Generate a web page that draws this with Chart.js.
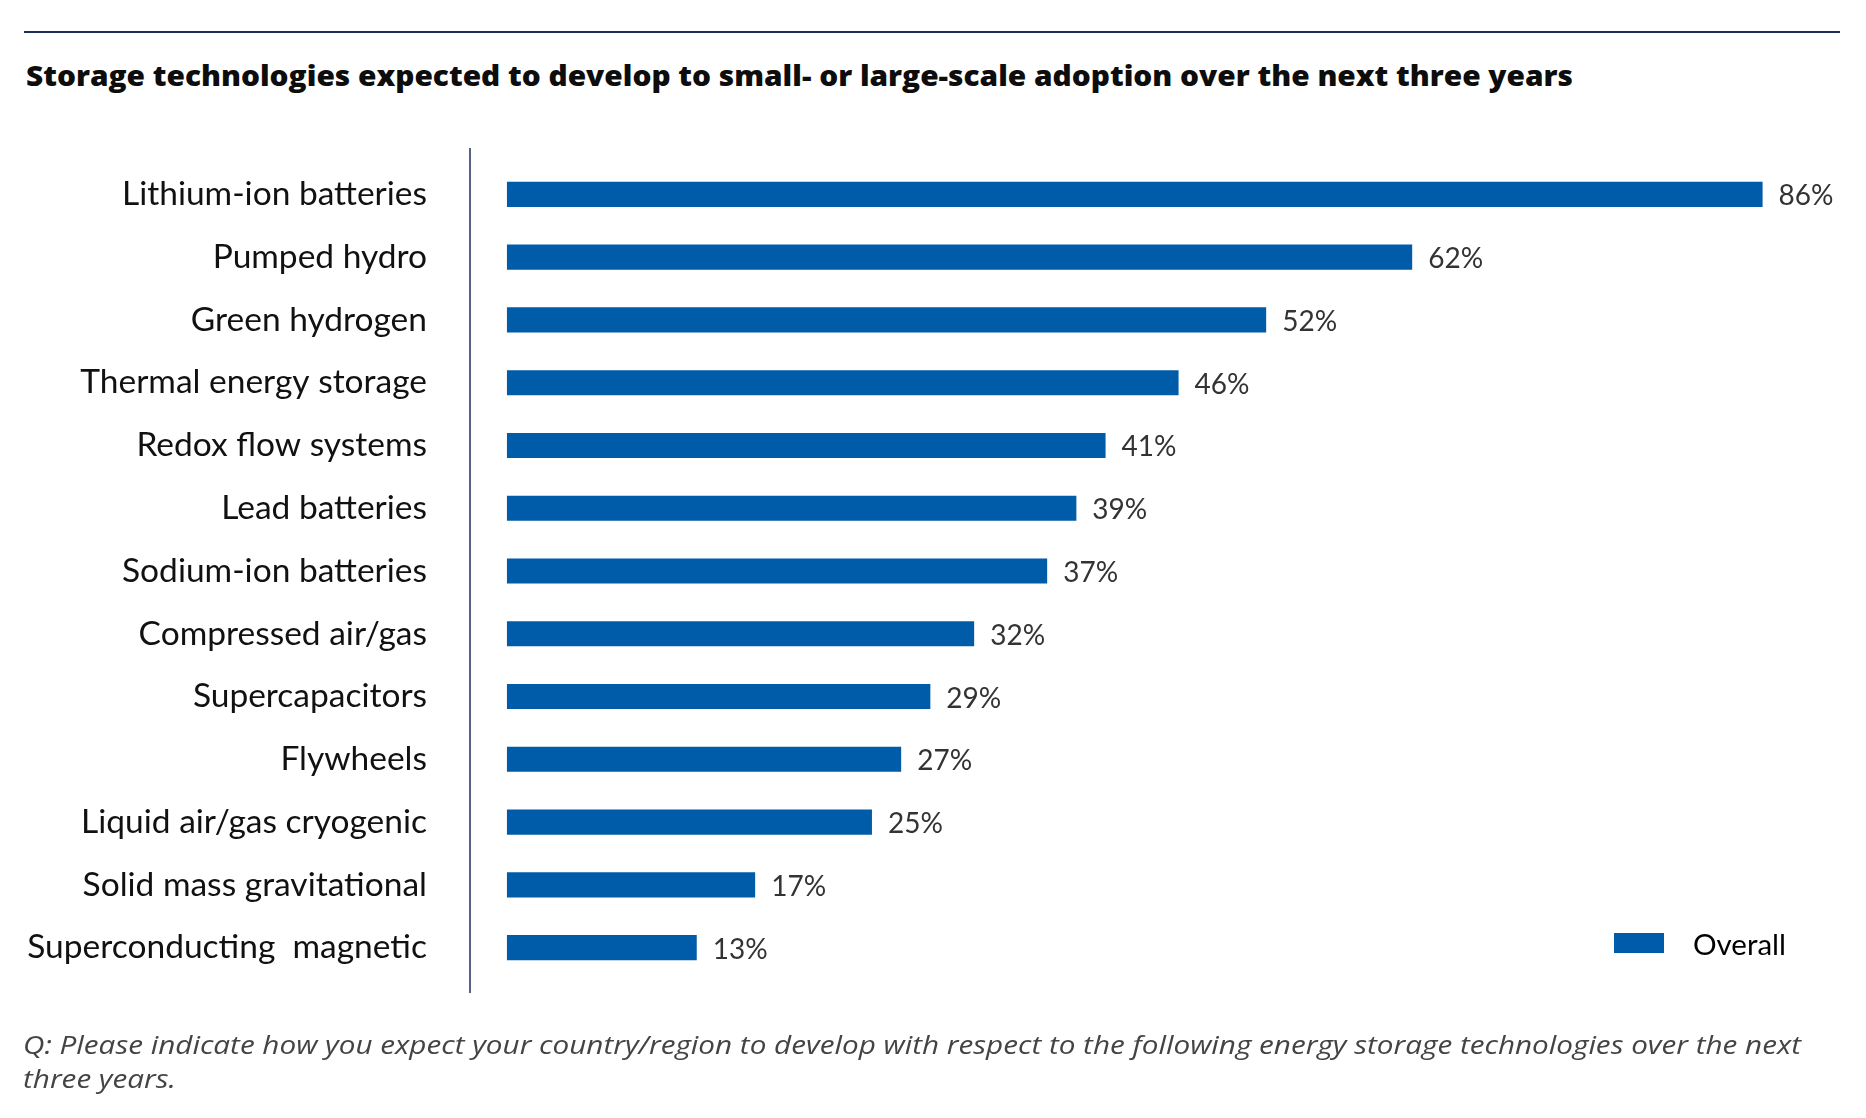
<!DOCTYPE html>
<html>
<head>
<meta charset="utf-8">
<script src="https://cdn.jsdelivr.net/npm/chart.js@4"></script>
<style>
  html, body { margin: 0; padding: 0; background: #ffffff; }
  body { width: 1866px; height: 1118px; position: relative; overflow: hidden; font-family: Lato, "Open Sans", sans-serif; }
  #topline { position: absolute; left: 24px; top: 31px; width: 1816px; height: 2px; background: #1f2d5a; }
  #title { position: absolute; left: 26px; top: 59px; font-family: "Open Sans", Lato, sans-serif; font-weight: 800; font-size: 28px; line-height: 1.2; color: #0d0d0d; white-space: nowrap; transform-origin: 0 0; }
  #note { position: absolute; left: 23px; top: 1027px; font-family: "Open Sans", Lato, sans-serif; font-style: italic; font-size: 25px; line-height: 34px; color: #444; white-space: nowrap; transform-origin: 0 0; }
  #note span { display: block; }
  canvas { position: absolute; left: 0; top: 0; }
</style>
</head>
<body>
<div id="topline"></div>
<div id="title">Storage technologies expected to develop to small- or large-scale adoption over the next three years</div>
<canvas id="c" width="1866" height="1118"></canvas>
<div id="note"><span id="note1">Q: Please indicate how you expect your country/region to develop with respect to the following energy storage technologies over the next</span><span>three years.</span></div>
<script>
const categories = [
  "Lithium-ion batteries",
  "Pumped hydro",
  "Green hydrogen",
  "Thermal energy storage",
  "Redox flow systems",
  "Lead batteries",
  "Sodium-ion batteries",
  "Compressed air/gas",
  "Supercapacitors",
  "Flywheels",
  "Liquid air/gas cryogenic",
  "Solid mass gravitational",
  "Superconducting  magnetic"
];
const seriesName = "Overall";
const overallValues = [86, 62, 52, 46, 41, 39, 37, 32, 29, 27, 25, 17, 13];
const valueSuffix = "%";

const BAR_COLOR = "#005ba9";
const AXIS_COLOR = "#1f2d5a";

// fit header / note widths to the reference
function fitAll() {
  const t = document.getElementById("title");
  const range = document.createRange();
  range.selectNodeContents(t);
  const tw = range.getBoundingClientRect().width;
  if (tw > 0) t.style.transform = "scaleX(" + (1547 / tw) + ")";
  const n1 = document.getElementById("note1");
  const r2 = document.createRange();
  r2.selectNodeContents(n1);
  const nw = r2.getBoundingClientRect().width;
  if (nw > 0) document.getElementById("note").style.transform = "scaleX(" + (1778 / nw) + ")";
}
fitAll();

const valueLabels = {
  id: "valueLabels",
  afterDatasetsDraw(chart) {
    const ctx = chart.ctx;
    const meta = chart.getDatasetMeta(0);
    const data = chart.data.datasets[0].data;
    ctx.save();
    ctx.font = "28px Lato";
    ctx.fillStyle = "#333333";
    ctx.textAlign = "left";
    ctx.textBaseline = "middle";
    meta.data.forEach((bar, i) => {
      ctx.fillText(data[i] + valueSuffix, bar.x + 16, bar.y + 2);
    });
    ctx.restore();
  }
};

const axisLine = {
  id: "axisLine",
  afterDraw(chart) {
    const ctx = chart.ctx;
    const a = chart.chartArea;
    ctx.save();
    ctx.strokeStyle = AXIS_COLOR;
    ctx.lineWidth = 1.5;
    ctx.beginPath();
    ctx.moveTo(a.left, a.top - 15);
    ctx.lineTo(a.left, a.bottom + 14);
    ctx.stroke();
    ctx.restore();
  }
};

const customLegend = {
  id: "customLegend",
  afterDraw(chart) {
    const ctx = chart.ctx;
    const a = chart.chartArea;
    const ds = chart.data.datasets[0];
    const bx = a.right - 207, by = a.bottom - 46;
    ctx.save();
    ctx.fillStyle = ds.backgroundColor;
    ctx.fillRect(bx, by, 50, 20);
    ctx.font = "29.5px Lato";
    ctx.fillStyle = "#000000";
    ctx.textAlign = "left";
    ctx.textBaseline = "alphabetic";
    ctx.fillText(ds.label, bx + 79, by + 22);
    ctx.restore();
  }
};

Chart.defaults.font.family = "Lato";

new Chart(document.getElementById("c"), {
  type: "bar",
  data: {
    labels: categories,
    datasets: [{
      label: seriesName,
      data: overallValues,
      backgroundColor: BAR_COLOR,
      borderWidth: 0,
      barPercentage: 0.8,
      categoryPercentage: 0.5
    }]
  },
  options: {
    indexAxis: "y",
    responsive: false,
    animation: false,
    devicePixelRatio: 1,
    layout: { padding: { top: 163, bottom: 139, left: 0, right: 45 } },
    plugins: {
      legend: { display: false },
      title: { display: false },
      tooltip: { enabled: false }
    },
    scales: {
      x: {
        display: false,
        min: -2.53,
        max: 90
      },
      y: {
        grid: { display: false, drawTicks: false },
        border: { display: false },
        ticks: {
          padding: 43,
          color: "#111111",
          font: { size: 33.5, family: "Lato" }
        },
        afterFit(scale) { scale.width = 470; }
      }
    }
  },
  plugins: [valueLabels, axisLine, customLegend]
});
</script>
</body>
</html>
